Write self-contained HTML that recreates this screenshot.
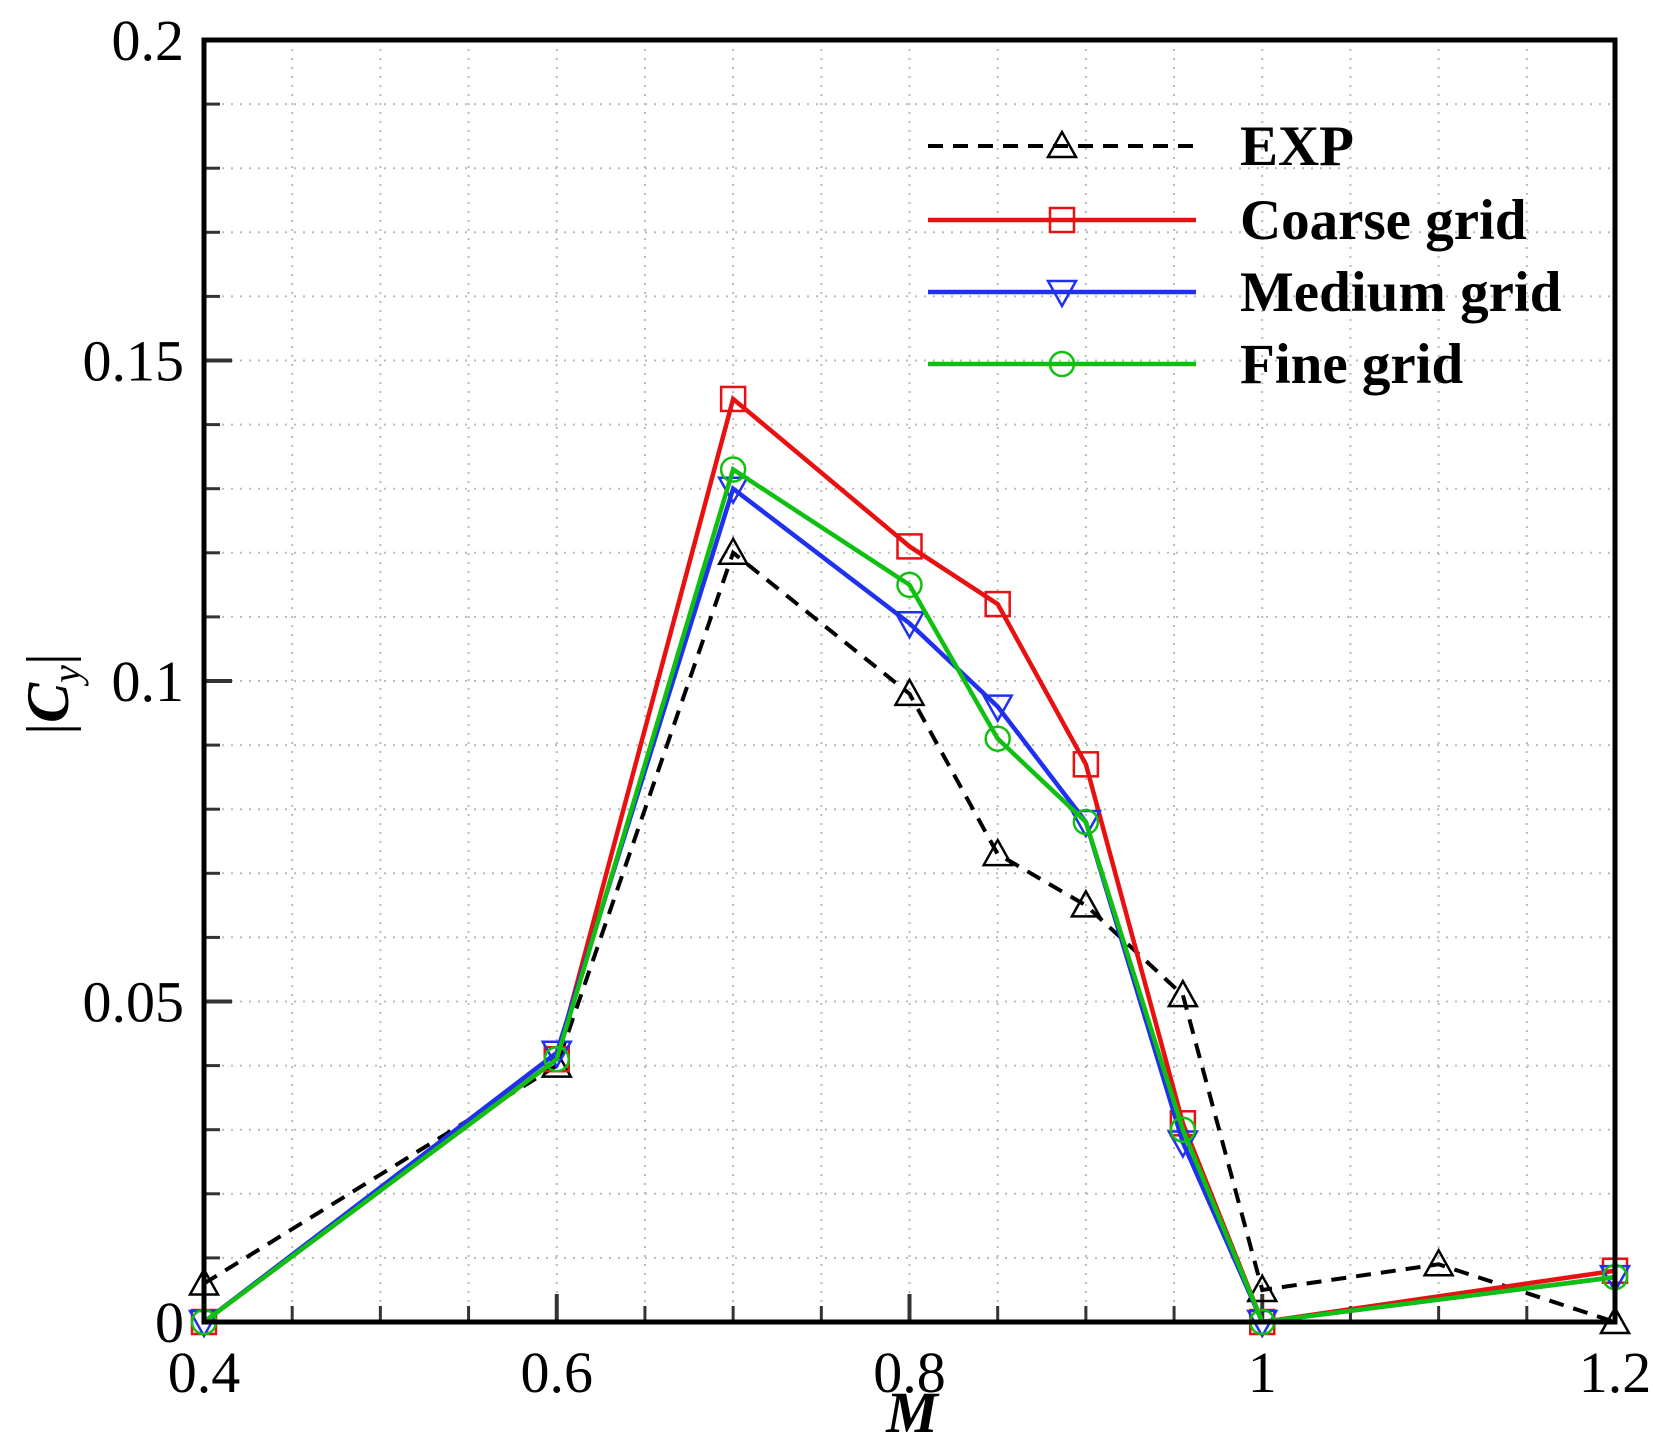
<!DOCTYPE html>
<html><head><style>html,body{margin:0;padding:0;background:#fff}svg{display:block}</style></head>
<body>
<svg id="s" width="1653" height="1440" xmlns="http://www.w3.org/2000/svg" font-family="Liberation Serif, serif"></svg>
<script>
const s=document.getElementById('s');
const L=204,R=1615,T=40,B=1322;
const X=v=>L+(v-0.4)/0.8*(R-L), Y=v=>B-v/0.2*(B-T);
let h='';
for(let i=1;i<16;i++){const x=X(0.4+i*0.05);h+=`<line x1="${x}" y1="${T}" x2="${x}" y2="${B}" stroke="#bbb" stroke-width="2" stroke-dasharray="2 7"/>`;}
for(let i=1;i<20;i++){const y=Y(i*0.01);h+=`<line x1="${L}" y1="${y}" x2="${R}" y2="${y}" stroke="#bbb" stroke-width="2" stroke-dasharray="2 7"/>`;}
for(let i=0;i<=16;i++){const x=X(0.4+i*0.05),len=i%4==0?28:16;h+=`<line x1="${x}" y1="${B}" x2="${x}" y2="${B-len}" stroke="#333" stroke-width="${i%4==0?4:3}"/>`;}
for(let i=0;i<=20;i++){const y=Y(i*0.01),len=i%5==0?28:16;h+=`<line x1="${L}" y1="${y}" x2="${L+len}" y2="${y}" stroke="#333" stroke-width="${i%5==0?4:3}"/>`;}
[['0.4',0.4],['0.6',0.6],['0.8',0.8],['1',1.0],['1.2',1.2]].forEach(([t,v])=>h+=`<text x="${X(v)}" y="1392" font-size="58" text-anchor="middle">${t}</text>`);
[['0',0],['0.05',0.05],['0.1',0.1],['0.15',0.15],['0.2',0.2]].forEach(([t,v])=>h+=`<text x="${L-20}" y="${Y(v)+20}" font-size="58" text-anchor="end">${t}</text>`);
h+=`<text x="912" y="1432" font-size="58" font-weight="bold" font-style="italic" text-anchor="middle">M</text>`;
h+=`<g transform="translate(68,694) rotate(-90)"><text x="0" y="0" font-size="60" text-anchor="middle">|<tspan font-weight="bold" font-style="italic">C</tspan><tspan font-size="40" font-style="italic" dy="12">y</tspan><tspan dy="-12">|</tspan></text></g>`;
function mk(type,x,y,c){
 if(type=='tri')return `<polygon points="${x},${y-14} ${x-14},${y+11} ${x+14},${y+11}" fill="none" stroke="${c}" stroke-width="2.5"/>`;
 if(type=='sq')return `<rect x="${x-12}" y="${y-12}" width="24" height="24" fill="none" stroke="${c}" stroke-width="2.5"/>`;
 if(type=='dtri')return `<polygon points="${x},${y+14} ${x-14},${y-11} ${x+14},${y-11}" fill="none" stroke="${c}" stroke-width="2.5"/>`;
 return `<circle cx="${x}" cy="${y}" r="12" fill="none" stroke="${c}" stroke-width="2.5"/>`;
}
const series=[
 ['#000','tri',true,[[0.4,0.006],[0.6,0.040],[0.7,0.120],[0.8,0.098],[0.85,0.073],[0.9,0.065],[0.955,0.051],[1.0,0.005],[1.1,0.009],[1.2,0]]],
 ['#e81010','sq',false,[[0.4,0],[0.6,0.041],[0.7,0.144],[0.8,0.121],[0.85,0.112],[0.9,0.087],[0.955,0.031],[1.0,0],[1.2,0.008]]],
 ['#2030f0','dtri',false,[[0.4,0],[0.6,0.042],[0.7,0.130],[0.8,0.109],[0.85,0.096],[0.9,0.078],[0.955,0.028],[1.0,0],[1.2,0.007]]],
 ['#10c010','ci',false,[[0.4,0],[0.6,0.041],[0.7,0.133],[0.8,0.115],[0.85,0.091],[0.9,0.078],[0.955,0.030],[1.0,0],[1.2,0.007]]]];
series.forEach(([c,m,d,p])=>{
 h+=`<polyline points="${p.map(q=>X(q[0])+','+Y(q[1])).join(' ')}" fill="none" stroke="${c}" stroke-width="${d?4:4.5}" ${d?'stroke-dasharray="15 10"':''}/>`;
 p.forEach(q=>h+=mk(m,X(q[0]),Y(q[1]),c));
});
const names=['EXP','Coarse grid','Medium grid','Fine grid'],ly=[146,220,292,364];
series.forEach(([c,m,d],i)=>{
 h+=`<line x1="928" y1="${ly[i]}" x2="1196" y2="${ly[i]}" stroke="${c}" stroke-width="${d?4:4.5}" ${d?'stroke-dasharray="15 10"':''}/>`;
 h+=mk(m,1062,ly[i],c);
 h+=`<text x="1240" y="${ly[i]+19}" font-size="57" font-weight="bold">${names[i]}</text>`;
});
h+=`<rect x="${L}" y="${T}" width="${R-L}" height="${B-T}" fill="none" stroke="#000" stroke-width="5"/>`;
s.innerHTML=h;
</script>
</body></html>
